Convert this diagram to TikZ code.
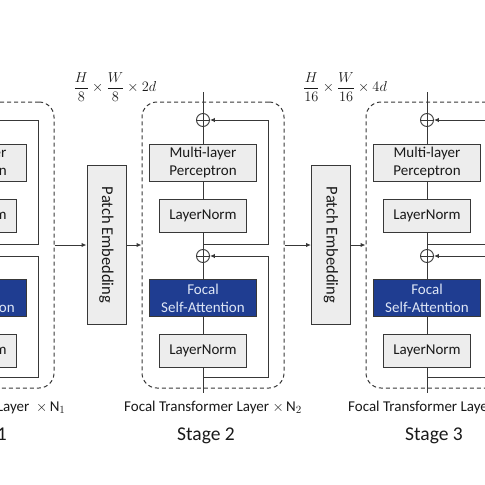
\documentclass[tikz,border=0pt]{standalone}
\usepackage{fontspec}
\setmainfont{Carlito}
\usetikzlibrary{arrows.meta}
\definecolor{linegray}{RGB}{56,56,56}
\definecolor{boxgray}{RGB}{237,237,237}
\definecolor{focalblue}{RGB}{31,61,145}
\definecolor{focaltext}{RGB}{222,230,246}
\begin{document}
\begin{tikzpicture}[x=1pt, y=-1pt,
	block/.style={draw=linegray, fill=boxgray, line width=1pt, inner sep=0pt, align=center, text=black!90, font=\fontsize{15}{18}\selectfont},
	mlp/.style={block, minimum width=107pt, minimum height=37pt},
	norm/.style={block, minimum width=87pt, minimum height=33pt},
	focal/.style={mlp, fill=focalblue, text=focaltext},
	embed/.style={block, rotate=-90, minimum width=159pt, minimum height=39pt, font=\fontsize{16.5}{18}\selectfont},
	stagebox/.style={draw=linegray, dash pattern=on 4pt off 3pt, rounded corners=15pt, line width=1pt, minimum width=142pt, minimum height=286pt, inner sep=0pt},
	sum/.style={circle, draw=linegray, line width=0.9pt, minimum size=13pt, inner sep=0pt, path picture={\draw[linegray, line width=0.9pt] (path picture bounding box.north) -- (path picture bounding box.south) (path picture bounding box.west) -- (path picture bounding box.east);}},
	wire/.style={draw=linegray, line width=1pt},
	res/.style={wire, -{Latex[length=5pt, width=4.5pt]}},
	caption/.style={text=black!90, font=\fontsize{15}{18}\selectfont},
	stagename/.style={text=black!90, font=\fontsize{19.5}{22}\selectfont}]
	\useasboundingbox (0,0) rectangle (485,485);
	\clip (0,0) rectangle (485,485);
	% stage 1 (cut off on the left)
	\node[stagebox] (box1) at (-17,245) {};
	\coordinate (top1) at (-27,92);
	\node[sum] (sum1a) at (-27,120) {};
	\node[mlp] (mlp1) at (-27,162.5) {Multi-layer\\Perceptron};
	\node[norm] (ln1a) at (-27,215.5) {LayerNorm};
	\node[sum] (sum1b) at (-27,256) {};
	\node[focal] (fsa1) at (-27,298) {Focal\\Self-Attention};
	\node[norm] (ln1b) at (-27,351) {LayerNorm};
	\coordinate (bot1) at (-27,393);
	\coordinate (skip1a) at (-27,244);
	\coordinate (skip1b) at (-27,377);
	\draw[wire] (top1) -- (sum1a) -- (mlp1) -- (ln1a) -- (sum1b) -- (fsa1) -- (ln1b) -- (bot1);
	\draw[res] (skip1a) -- ++(65,0) |- (sum1a);
	\draw[res] (skip1b) -- ++(65,0) |- (sum1b);
	\node[caption] (cap1) at (-25,407) {Focal Transformer Layer\ \ $\times\,\mathrm{N}_1$};
	\node[stagename] (name1) at (-22,436) {Stage 1};
	% patch embedding 1
	\node[embed] (pe1) at (106.5,245) {Patch Embedding};
	\node[caption] (dim2) at (115,87) {$\displaystyle\frac{H}{8}\times\frac{W}{8}\times 2d$};
	% stage 2
	\node[stagebox] (box2) at (213,245) {};
	\coordinate (top2) at (203,92);
	\node[sum] (sum2a) at (203,120) {};
	\node[mlp] (mlp2) at (203,162.5) {Multi-layer\\Perceptron};
	\node[norm] (ln2a) at (203,215.5) {LayerNorm};
	\node[sum] (sum2b) at (203,256) {};
	\node[focal] (fsa2) at (203,298) {Focal\\Self-Attention};
	\node[norm] (ln2b) at (203,351) {LayerNorm};
	\coordinate (bot2) at (203,393);
	\coordinate (skip2a) at (203,244);
	\coordinate (skip2b) at (203,377);
	\draw[wire] (top2) -- (sum2a) -- (mlp2) -- (ln2a) -- (sum2b) -- (fsa2) -- (ln2b) -- (bot2);
	\draw[res] (skip2a) -- ++(65,0) |- (sum2a);
	\draw[res] (skip2b) -- ++(65,0) |- (sum2b);
	\node[caption] (cap2) at (213,407) {Focal Transformer Layer $\times\,\mathrm{N}_2$};
	\node[stagename] (name2) at (206,436) {Stage 2};
	% patch embedding 2
	\node[embed] (pe2) at (331,245) {Patch Embedding};
	\node[caption] (dim3) at (345,87) {$\displaystyle\frac{H}{16}\times\frac{W}{16}\times 4d$};
	% stage 3 (cut off on the right)
	\node[stagebox] (box3) at (437,245) {};
	\coordinate (top3) at (427,92);
	\node[sum] (sum3a) at (427,120) {};
	\node[mlp] (mlp3) at (427,162.5) {Multi-layer\\Perceptron};
	\node[norm] (ln3a) at (427,215.5) {LayerNorm};
	\node[sum] (sum3b) at (427,256) {};
	\node[focal] (fsa3) at (427,298) {Focal\\Self-Attention};
	\node[norm] (ln3b) at (427,351) {LayerNorm};
	\coordinate (bot3) at (427,393);
	\coordinate (skip3a) at (427,244);
	\coordinate (skip3b) at (427,377);
	\draw[wire] (top3) -- (sum3a) -- (mlp3) -- (ln3a) -- (sum3b) -- (fsa3) -- (ln3b) -- (bot3);
	\draw[res] (skip3a) -- ++(65,0) |- (sum3a);
	\draw[res] (skip3b) -- ++(65,0) |- (sum3b);
	\node[caption] (cap3) at (437,407) {Focal Transformer Layer $\times\,\mathrm{N}_3$};
	\node[stagename] (name3) at (434,436) {Stage 3};
	% between the stages
	\draw[res] (box1.east) -- (pe1);
	\draw[res] (pe1) -- (box2);
	\draw[res] (box2.east) -- (pe2);
	\draw[res] (pe2) -- (box3);
\end{tikzpicture}
\end{document}
